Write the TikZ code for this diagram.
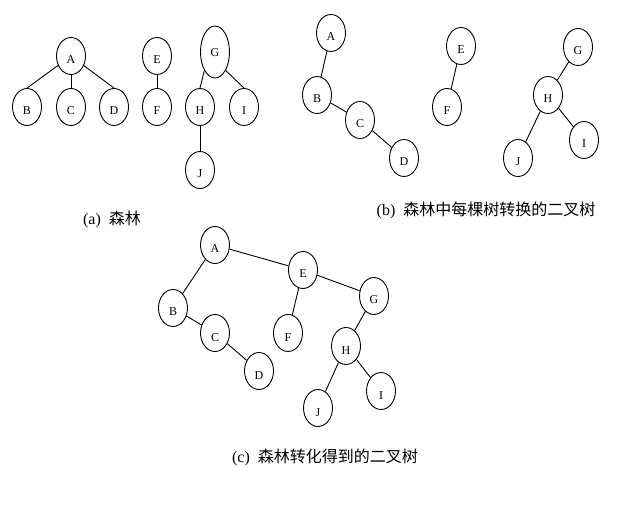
\documentclass[tikz,border=0pt]{standalone}
\usepackage{fontspec}
\setmainfont{Liberation Serif}
\newfontfamily\cjk{Noto Sans CJK SC}
\usetikzlibrary{shapes.geometric}

\begin{document}
\begin{tikzpicture}[x=1pt,y=-1pt]
            \tikzset{
                vertex/.style={ellipse,draw,line width=0.9pt,inner sep=0pt,
                    minimum width=29pt,minimum height=37pt,text height=16pt,text depth=0pt,
                    font=\fontsize{12}{14}\selectfont},
                edge/.style={line width=0.9pt},
                caption/.style={font=\fontsize{16}{18}\selectfont}
            }
            \useasboundingbox (0,0) rectangle (629,521);

            % (a) forest
            \node[vertex] (aA) at (71,56) {A};
            \node[vertex] (aB) at (27,107) {B};
            \node[vertex] (aC) at (71,107) {C};
            \node[vertex] (aD) at (114,107) {D};
            \node[vertex] (aE) at (157,56) {E};
            \node[vertex] (aF) at (157,107) {F};
            \node[vertex,minimum height=52pt,text height=8.5pt] (aG) at (215,52) {G};
            \node[vertex] (aH) at (200,107) {H};
            \node[vertex] (aI) at (244,107) {I};
            \node[vertex] (aJ) at (200,170) {J};

            \draw[edge] (aA) -- (aB.north);
            \draw[edge] (aA) -- (aC);
            \draw[edge] (aA) -- (aD.north);
            \draw[edge] (aE) -- (aF);
            \draw[edge] (aG.240) -- (aH.north);
            \draw[edge] (aG.300) -- (aI.north);
            \draw[edge] (aH) -- (aJ);

            \node[caption] (capa) at (112,219) {(a)\hspace{8pt}{\cjk 森林}};

            % (b) each tree as a binary tree
            \node[vertex] (bA) at (331,33) {A};
            \node[vertex] (bB) at (317,95) {B};
            \node[vertex] (bC) at (360,120) {C};
            \node[vertex] (bD) at (404,158) {D};
            \node[vertex] (bE) at (461,46) {E};
            \node[vertex] (bF) at (447,107) {F};
            \node[vertex] (bG) at (578,47) {G};
            \node[vertex] (bH) at (548,95) {H};
            \node[vertex] (bI) at (584,140) {I};
            \node[vertex] (bJ) at (518,158) {J};

            \draw[edge] (bA) -- (bB);
            \draw[edge] (bB) -- (bC);
            \draw[edge] (bC) -- (bD);
            \draw[edge] (bE) -- (bF);
            \draw[edge] (bG) -- (bH);
            \draw[edge] (bH) -- (bJ);
            \draw[edge] (bH) -- (bI);

            \node[caption] (capb) at (486,210) {(b)\hspace{8pt}{\cjk 森林中每棵树转换的二叉树}};

            % (c) whole forest as one binary tree
            \node[vertex] (cA) at (215,245) {A};
            \node[vertex] (cB) at (173,308) {B};
            \node[vertex] (cC) at (215,333) {C};
            \node[vertex] (cD) at (259,371) {D};
            \node[vertex] (cE) at (303,270) {E};
            \node[vertex] (cF) at (288,333) {F};
            \node[vertex] (cG) at (374,296) {G};
            \node[vertex] (cH) at (346,346) {H};
            \node[vertex] (cI) at (381,391) {I};
            \node[vertex] (cJ) at (318,408) {J};

            \draw[edge] (cA) -- (cB);
            \draw[edge] (cB) -- (cC);
            \draw[edge] (cC) -- (cD);
            \draw[edge] (cA) -- (cE);
            \draw[edge] (cE) -- (cF);
            \draw[edge] (cE) -- (cG);
            \draw[edge] (cG) -- (cH);
            \draw[edge] (cH) -- (cJ);
            \draw[edge] (cH) -- (cI);

            \node[caption] (capc) at (325,457) {(c)\hspace{8pt}{\cjk 森林转化得到的二叉树}};
\end{tikzpicture}
\end{document}
